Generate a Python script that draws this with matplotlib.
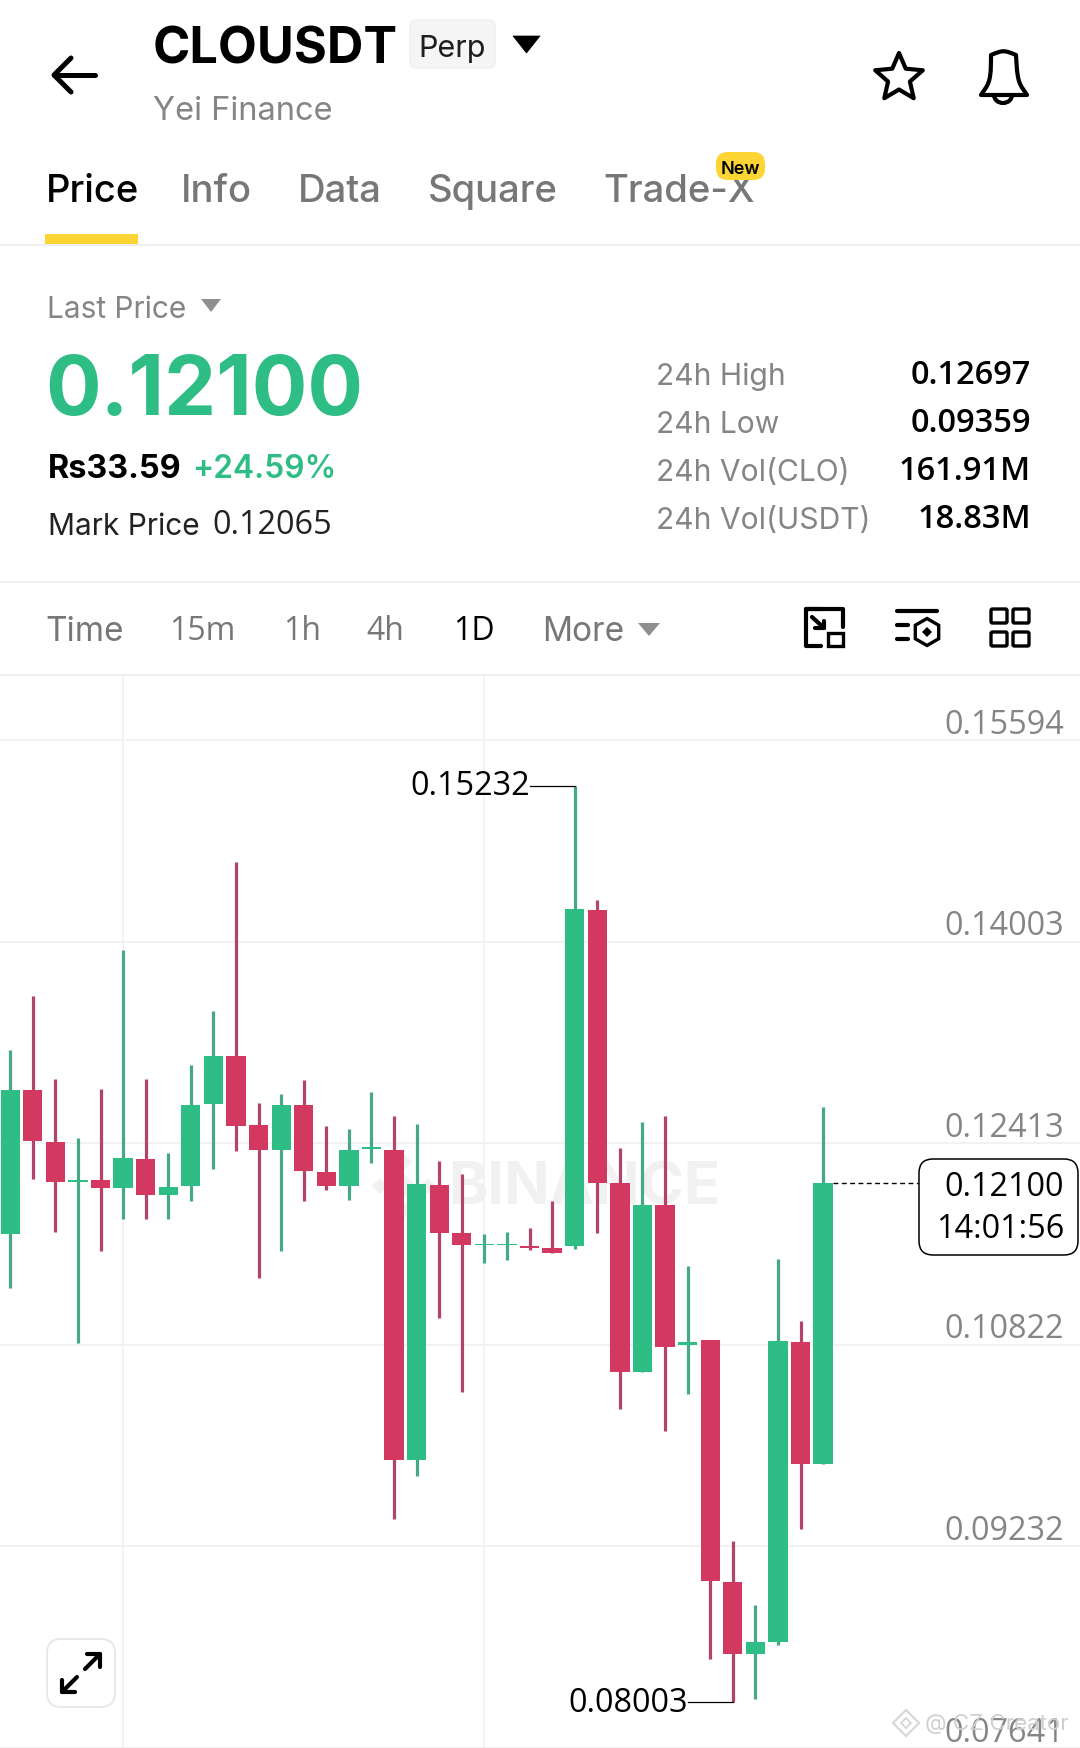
import matplotlib
matplotlib.use("Agg")
import matplotlib.pyplot as plt
import numpy as np
from matplotlib.patches import FancyBboxPatch, Polygon, Rectangle, PathPatch, Arc, RegularPolygon
from matplotlib.path import Path
from matplotlib.transforms import blended_transform_factory

plt.rcParams['font.family'] = ['Inter', 'DejaVu Sans']

GREEN = "#2ebd85"
RED = "#d33861"
GREEN_WICK = "#45a886"
RED_WICK = "#b2446a"
GRAY = "#858585"
LINE = "#eeeeee"
NUM = ['Open Sans', 'DejaVu Sans']  # numbers in the app are evenly spaced

# daily candles
opens = [0.11695, 0.12833, 0.12424, 0.12108, 0.12124, 0.12058, 0.12287, 0.12003, 0.12077, 0.12720,
         0.13098, 0.12556, 0.12358, 0.12712, 0.12186, 0.12073, 0.12369, 0.12361, 0.09910, 0.12085,
         0.11703, 0.11606, 0.11606, 0.11603, 0.11583, 0.11603, 0.14256, 0.12102, 0.10605, 0.11929,
         0.10822, 0.10857, 0.08950, 0.08382, 0.08476, 0.10847, 0.09884]
closes = [0.12829, 0.12428, 0.12108, 0.12124, 0.12058, 0.12295, 0.12007, 0.12069, 0.12716, 0.13102,
          0.12552, 0.12358, 0.12712, 0.12194, 0.12073, 0.12361, 0.12385, 0.09914, 0.12093, 0.11707,
          0.11606, 0.11621, 0.11621, 0.11583, 0.11548, 0.14261, 0.12102, 0.10605, 0.11929, 0.10807,
          0.10842, 0.08955, 0.08382, 0.08476, 0.10852, 0.09884, 0.12100]
highs = [0.13145, 0.13577, 0.12919, 0.12455, 0.12841, 0.13936, 0.12919, 0.12338, 0.13028, 0.13456,
         0.14633, 0.12728, 0.12802, 0.12911, 0.12545, 0.12521, 0.12817, 0.12630, 0.12564, 0.12276,
         0.12171, 0.11695, 0.11711, 0.11741, 0.11959, 0.15232, 0.14330, 0.12374, 0.12581, 0.12625,
         0.11440, 0.10857, 0.09271, 0.08767, 0.11499, 0.11010, 0.12695]
lows = [0.11274, 0.12128, 0.11711, 0.10838, 0.11563, 0.11812, 0.11812, 0.11812, 0.11956, 0.12210,
        0.12350, 0.11348, 0.11563, 0.11956, 0.12046, 0.11968, 0.12260, 0.09447, 0.09786, 0.11037,
        0.10448, 0.11465, 0.11493, 0.11568, 0.11549, 0.11578, 0.11707, 0.10313, 0.10605, 0.10140,
        0.10437, 0.08347, 0.08003, 0.08026, 0.08456, 0.09365, 0.09884]

price_ticks = [0.15594, 0.14003, 0.12413, 0.10822, 0.09232, 0.07641]
price_labels = ["0.15594", "0.14003", "0.12413", "0.10822", "0.09232", "0.07641"]
grid_days = [5, 21]

tabs = ["Price", "Info", "Data", "Square", "Trade-X"]
tab_x = [46, 181, 298, 428, 603]
periods = ["Time", "15m", "1h", "4h", "1D", "More"]
period_x = [45, 169, 283, 366, 453, 542]
stat_names = ["24h High", "24h Low", "24h Vol(CLO)", "24h Vol(USDT)"]
stat_values = ["0.12697", "0.09359", "161.91M", "18.83M"]
stat_y = [377, 425, 473, 521]

W, H = 1080, 1749
TOP = 676  # top of the chart area in pixels
Y_REF = 1149  # pixel row of 0.12413
fig = plt.figure(figsize=(W / 100, H / 100), dpi=100, facecolor="white")

# chart: price scale is 0.0159 per 203.6 px, candles 22.58 px apart
ax = fig.add_axes([0, 0, 1, (H - TOP) / H], zorder=1)
per_px = (0.14003 - 0.12413) / 203.6
ax.set_ylim(0.12413 - (H - Y_REF) * per_px, 0.12413 + (Y_REF - TOP) * per_px)
ax.set_xlim((0 - 10.2) / 22.58, (W - 10.2) / 22.58)
ax.set_yticks(price_ticks)
ax.set_xticks(grid_days)
ax.grid(True, color="#f0f0f0", lw=1.2, zorder=0)
ax.set_axisbelow(True)
ax.tick_params(length=0, labelbottom=False, labelleft=False)
for s in ax.spines.values():
    s.set_visible(False)

ui = fig.add_axes([0, 0, 1, 1], zorder=2)
ui.set_xlim(0, W)
ui.set_ylim(H, 0)
ui.axis("off")
ui.patch.set_alpha(0)


def t(x, y, s, size=21, color="black", ha="left", weight="normal", **kw):
    return ui.text(x, y, s, fontsize=size, color=color, ha=ha, va="center", fontweight=weight, **kw)


def rbox(x0, y0, x1, y1, r, fc="white", ec="none", lw=1.0, zorder=2):
    p = FancyBboxPatch((x0, y0), x1 - x0, y1 - y0, boxstyle=f"round,pad=0,rounding_size={r}",
                       fc=fc, ec=ec, lw=lw, zorder=zorder)
    ui.add_patch(p)


def stroke(xs, ys, lw=3.2, color="black"):
    ui.plot(xs, ys, color=color, lw=lw, solid_capstyle="round", solid_joinstyle="round")


# watermark sits under the candles
wm = "#f1f1f1"
ax.text(448, 1189, "BINANCE", transform=ui.transData, fontsize=43, fontweight="bold", color=wm,
        ha="left", va="center", zorder=0.5)
for cx, cy, r in [(404, 1187, 12), (380, 1187, 8), (428, 1187, 8), (404, 1163, 8), (404, 1211, 8)]:
    ax.add_patch(Polygon([(cx - r, cy), (cx, cy - r), (cx + r, cy), (cx, cy + r)], fc=wm, ec="none",
                         transform=ui.transData, zorder=0.5))

# candles
days = np.arange(len(opens))
o = np.array(opens)
c = np.array(closes)
up = c >= o
ax.vlines(days[up], np.array(lows)[up], np.array(highs)[up], color=GREEN_WICK, lw=2.3, zorder=2)
ax.vlines(days[~up], np.array(lows)[~up], np.array(highs)[~up], color=RED_WICK, lw=2.3, zorder=2)
ax.bar(days, np.abs(c - o), bottom=np.minimum(o, c), width=0.855,
       color=[GREEN if u else RED for u in up], zorder=3)

# high / low / last price markers
hi = int(np.argmax(highs))
lo = int(np.argmin(lows))
ax.plot([hi - 2.0, hi], [highs[hi], highs[hi]], color="black", lw=0.9, zorder=4)
ax.plot([lo - 2.0, lo], [lows[lo], lows[lo]], color="black", lw=0.9, zorder=4)
ax.text(hi - 2.0, highs[hi], "0.15232", fontsize=23.3, family=NUM, ha="right", va="center", color="black", zorder=5)
ax.text(lo - 2.0, lows[lo], "0.08003", fontsize=23.3, family=NUM, ha="right", va="center", color="black", zorder=5)
ax.plot([days[-1] + 0.43, 40.2], [closes[-1], closes[-1]], color="black", lw=1.0, ls=(0, (3.5, 2.5)), zorder=4)

# right hand price labels, sit just above their grid lines
trans = blended_transform_factory(ax.transAxes, ax.transData)
for p, lab in zip(price_ticks, price_labels):
    ax.text(1064 / W, p + 16 * per_px, lab, transform=trans, fontsize=23.3, family=NUM, color=GRAY,
            ha="right", va="center", clip_on=False, zorder=5)

rbox(919, 1160, 1078, 1256, 14, fc="white", ec="black", lw=1.1)
t(1064, 1188, "0.12100", 23.3, ha="right", zorder=3, family=NUM)
t(1064, 1230, "14:01:56", 23.3, ha="right", zorder=3, family=NUM)

# header
stroke([95, 54], [76, 76], 3.6)
stroke([71, 54, 71], [59, 76, 93], 3.6)
t(153, 50, "CLOUSDT", 36.3, weight="bold")
rbox(410, 21, 495, 69, 6, fc="#f5f5f5", ec="#eeeeee")
t(452.5, 49, "Perp", 22, ha="center", zorder=3, color="#1e1e1e")
ui.add_patch(Polygon([(513, 37), (540, 37), (526.5, 54)], fc="black", ec="black", lw=0.5, joinstyle="round"))
t(153, 112, "Yei Finance", 23.5, color=GRAY)

ang = np.pi / 2 + np.arange(10) * np.pi / 5
rad = np.where(np.arange(10) % 2 == 0, 25, 11.5)
ui.add_patch(Polygon(np.c_[899 + rad * np.cos(ang), 79 - rad * np.sin(ang)], closed=True, fc="none", ec="black",
                     lw=3.0, joinstyle="round"))

bell = Path([(985, 90), (991, 82), (991, 72), (991, 56), (1003, 51), (1004, 51), (1016, 56), (1017, 72),
             (1017, 82), (1023, 90), (1027, 96), (981, 96), (985, 90)],
            [1, 4, 4, 4, 4, 4, 4, 4, 4, 4, 2, 2, 2])
ui.add_patch(PathPatch(bell, fc="none", ec="black", lw=3.0, joinstyle="round"))
ui.add_patch(Arc((1003, 96), 18, 16, theta1=0, theta2=180, ec="black", lw=3.0))

# tabs
for i, (name, x) in enumerate(zip(tabs, tab_x)):
    t(x, 192, name, 27.5, color="black" if i == 0 else "#777777", weight="medium")
ui.add_patch(Rectangle((45, 235), 93, 10, fc="#fcd535", ec="none"))
ui.plot([0, W], [246, 246], color=LINE, lw=1.4)
rbox(716, 153, 765, 181, 12, fc="#fcd535", zorder=3)
t(740.5, 169, "New", 13, ha="center", weight="semibold", zorder=4)

# price block
t(47, 310, "Last Price", 21.5, color=GRAY)
ui.add_patch(Polygon([(201, 300), (221, 300), (211, 313)], fc="#8f8f8f", ec="none"))
t(45, 393, "0.12100", 59.5, color=GREEN, weight="bold")
t(48, 469, "Rs33.59", 23.3, weight="bold")
t(192, 469, "+24.59%", 22.8, color=GREEN, weight="semibold")
t(48, 527, "Mark Price", 21.5, color="#222222")
t(212, 526, "0.12065", 23.3, color="#222222", family=NUM)
for name, val, y in zip(stat_names, stat_values, stat_y):
    t(656, y, name, 21.6, color=GRAY)
    t(1031, y - 1, val, 23.5, ha="right", weight="semibold", family=NUM)
ui.plot([0, W], [583, 583], color=LINE, lw=1.4)

# period row, digit labels use the evenly spaced face too
for name, x in zip(periods, period_x):
    fam = NUM if name[0].isdigit() else None
    size = 23 if fam else 24
    t(x, 632, name, size, color="black" if name == "1D" else "#777777",
      weight="medium" if name == "1D" else "normal", family=fam)
ui.add_patch(Polygon([(638, 624), (660, 624), (649, 637)], fc="#8f8f8f", ec="none"))
ui.plot([0, W], [676, 676], color=LINE, lw=1.4)

# toolbar icons
stroke([821, 806, 806, 821], [647, 647, 610, 610], 3.0)
stroke([806, 843, 843], [610, 610, 628], 3.0)
ui.add_patch(Rectangle((828, 634), 15, 13, fc="none", ec="black", lw=2.4))
stroke([812, 824], [618, 629], 3.0)
stroke([824, 824, 815], [622, 629, 629], 3.0)

stroke([897, 937], [612, 612], 3.0)
stroke([897, 908], [626, 626], 3.0)
stroke([897, 908], [640, 640], 3.0)
ui.add_patch(RegularPolygon((927, 633), 6, radius=13.5, fc="none", ec="black", lw=2.4))
ui.add_patch(Polygon([(922, 633), (927, 628), (932, 633), (927, 638)], fc="black", ec="none"))

for x0 in (991, 1013):
    for y0 in (610, 633):
        rbox(x0, y0, x0 + 16, y0 + 14, 1.5, fc="none", ec="black", lw=2.4)

# expand button
rbox(47, 1640, 115, 1708, 14, fc="white", ec="#e8e8e8", lw=1.4)
stroke([62, 77], [1693, 1678], 3.0)
stroke([62, 62, 75], [1681, 1693, 1693], 3.0)
stroke([85, 100], [1670, 1655], 3.0)
stroke([87, 100, 100], [1655, 1655, 1668], 3.0)

# screenshot credit
t(925, 1724, "@ CZ Creator", 16, color="#cfcfcf", zorder=6)
ui.add_patch(RegularPolygon((906, 1724), 4, radius=13, fc="none", ec="#d8d8d8", lw=1.6))
ui.add_patch(RegularPolygon((906, 1724), 4, radius=5, fc="none", ec="#d8d8d8", lw=1.4))

fig.savefig("out.png", dpi=100)
